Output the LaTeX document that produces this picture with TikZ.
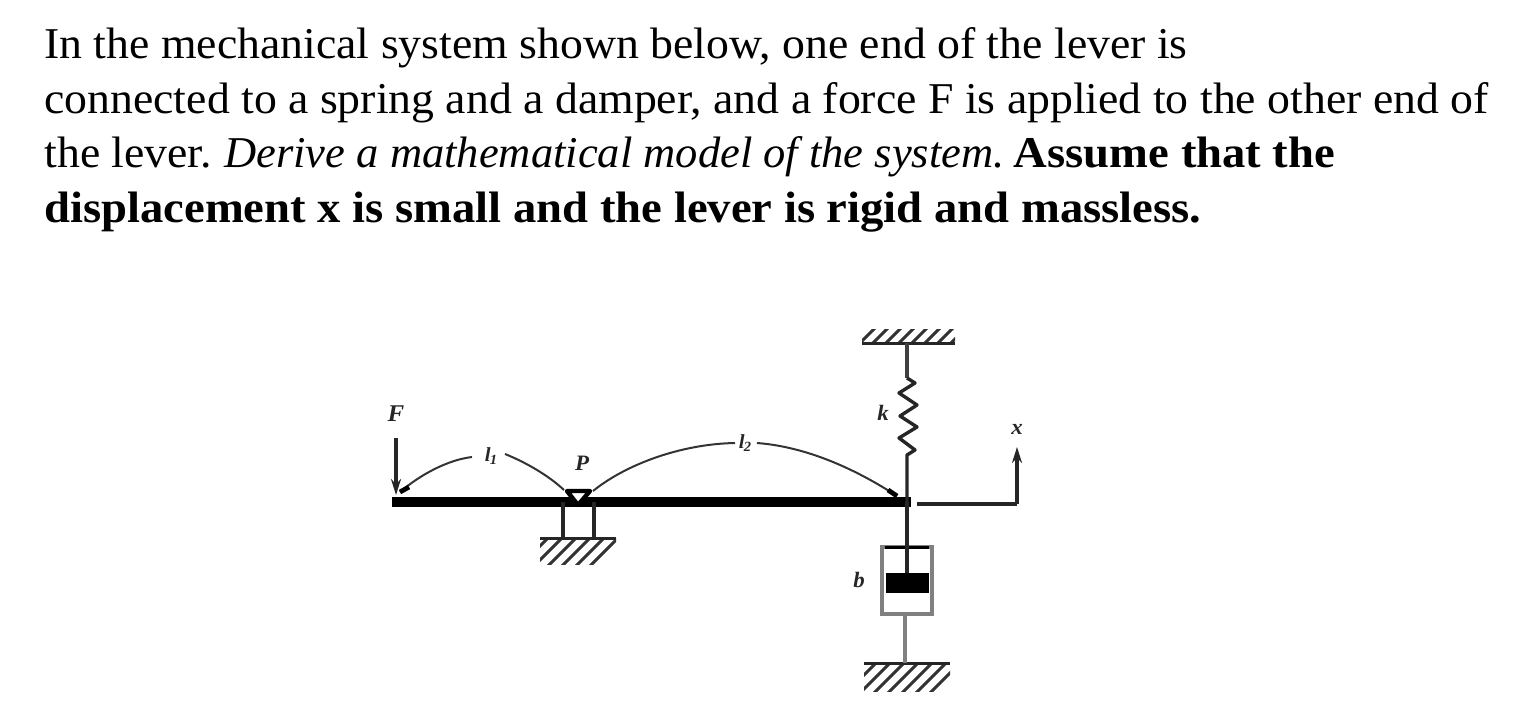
\documentclass[tikz,border=0pt]{standalone}
\usepackage{fontspec}
\setmainfont{Liberation Serif}[FakeStretch=1.04,
  BoldFeatures={FakeStretch=1.06},
  ItalicFeatures={FakeStretch=1.012}]
\usetikzlibrary{arrows.meta}
\tikzset{
  txt/.style={anchor=base west,inner sep=0pt,font=\fontsize{22}{24}\selectfont},
  lab/.style={inner sep=0pt,font=\fontsize{10}{11}\selectfont\bfseries\itshape,text=black!85},
  wire/.style={line width=1.6pt,draw=black!85},
  thin wire/.style={line width=1pt,draw=black!80},
  hatch/.style={line width=1.5pt,draw=black!80},
  wall/.style={line width=1.5pt,draw=black!85},
  tip/.style={-{Stealth[length=8pt,width=5pt]}}
}
\begin{document}
\begin{tikzpicture}[x=0.5pt,y=-0.5pt]
\useasboundingbox (0,0) rectangle (1513,718);
% text
\node[txt] (t1) at (44,58) {In the mechanical system shown below, one end of the lever is};
\node[txt] (t2) at (44,113) {connected to a spring and a damper, and a force F is applied to the other end of};
\node[txt] (t3) at (44,167) {the lever.\hspace{-1.5pt} \textit{Derive a mathematical model of the system.}\hspace{-3pt} \textbf{Assume that the}};
\node[txt] (t4) at (44,222) {\textbf{displacement x is small and the lever is rigid and massless.}};
% lever
\coordinate (L) at (392,502);
\coordinate (R) at (911,502);
\draw[line width=5pt,draw=black] (L) -- (R);
% top wall
\coordinate (wt1) at (862,343); \coordinate (wt2) at (955,343);
\begin{scope}
\clip (862,329) rectangle (955,343);
\foreach \xx in {858,871,...,954}{\draw[hatch] (\xx,345) -- (\xx+18,327);}
\end{scope}
\draw[wall] (wt1) -- (wt2);
% pivot wall
\coordinate (wp1) at (540,538); \coordinate (wp2) at (616,538);
\begin{scope}
\clip (540,538) rectangle (616,564);
\foreach \xx in {520,534,...,600}{\draw[hatch] (\xx,566) -- (\xx+30,536);}
\end{scope}
\draw[wall] (wp1) -- (wp2);
% bottom wall
\coordinate (wb1) at (864,663); \coordinate (wb2) at (950,663);
\begin{scope}
\clip (864,663) rectangle (950,691);
\foreach \xx in {846,860,...,940}{\draw[hatch] (\xx,693) -- (\xx+32,661);}
\end{scope}
\draw[wall] (wb1) -- (wb2);
% pivot posts and triangle
\coordinate (pa1) at (563,502); \coordinate (pa2) at (563,538);
\coordinate (pb1) at (594,502); \coordinate (pb2) at (594,538);
\draw[wire,line width=1.7pt] (pa1) -- (pa2);
\draw[wire,line width=1.7pt] (pb1) -- (pb2);
\coordinate (ta) at (567,491); \coordinate (tb) at (590,491); \coordinate (tc) at (578,505);
\filldraw[fill=white,draw=black,line width=2.2pt,line join=round] (ta) -- (tb) -- (tc) -- cycle;
% force
\coordinate (F1) at (396,438); \coordinate (F2) at (396,495);
\draw[wire,tip] (F1) -- (F2);
\node[lab,font=\fontsize{12}{13}\selectfont\bfseries\itshape] (F) at (396,414) {F};
% l1 dimension
\node[lab] (l1) at (491,456) {\textit{l}\kern-0.3pt\raisebox{-1.5pt}{\fontsize{7}{8}\selectfont 1}};
\coordinate (l1a) at (400,492); \coordinate (l1b) at (564,490);
\draw[thin wire] (l1a) .. controls (420,475) and (447,460) .. (472,457);
\draw[thin wire] (505,454) .. controls (525,462) and (548,475) .. (l1b);
\draw[line width=2.4pt] (400,492) -- (409,487);
% P
\node[lab,font=\fontsize{11}{12}\selectfont\bfseries\itshape] (P) at (582,463) {P};
% l2 dimension
\node[lab] (l2) at (745,443) {\textit{l}\kern-0.3pt\raisebox{-1.5pt}{\fontsize{7}{8}\selectfont 2}};
\coordinate (l2a) at (593,491); \coordinate (l2b) at (897,496);
\draw[thin wire] (l2a) .. controls (625,465) and (680,444) .. (735,443);
\draw[thin wire] (757,443) .. controls (810,447) and (860,472) .. (l2b);
\draw[line width=2.4pt] (888,490) -- (897,496);
% spring
\coordinate (s0) at (907,343); \coordinate (s1) at (907,378);
\coordinate (s2) at (907,455); \coordinate (s3) at (907,502);
\draw[wire,draw=black!75] (s0) -- (s1);
\draw[wire,line width=1.7pt,line join=round] (s1) -- (915,383) -- (899,393) -- (917,405) -- (900,416) -- (917,427) -- (899,438) -- (915,450) -- (s2) -- (s3);
\node[lab,font=\fontsize{11}{12}\selectfont\bfseries\itshape] (k) at (883,413) {k};
% damper
\coordinate (d0) at (907,502); \coordinate (d1) at (907,573);
\node[draw=black!50,line width=2.4pt,fill=white,minimum width=25pt,minimum height=33.5pt,inner sep=0pt] (box) at (907,580.5) {};
\draw[line width=1.2pt] (885,547.5) -- (929,547.5);
\draw[wire] (d0) -- (d1);
\node[fill=black,minimum width=21.5pt,minimum height=10pt,inner sep=0pt] (pist) at (907,583) {};
\draw[line width=2.4pt,draw=black!50] (905,614) -- (905,663);
\node[lab,font=\fontsize{11}{12}\selectfont\bfseries\itshape] (b) at (859,580) {b};
% x indicator
\coordinate (x0) at (917,504); \coordinate (x1) at (1017,504); \coordinate (x2) at (1017,447);
\draw[wire] (x0) -- (x1);
\draw[wire,tip] (x1) -- (x2);
\node[lab,font=\fontsize{11}{12}\selectfont\bfseries\itshape] (x) at (1017,429) {x};
\end{tikzpicture}
\end{document}
